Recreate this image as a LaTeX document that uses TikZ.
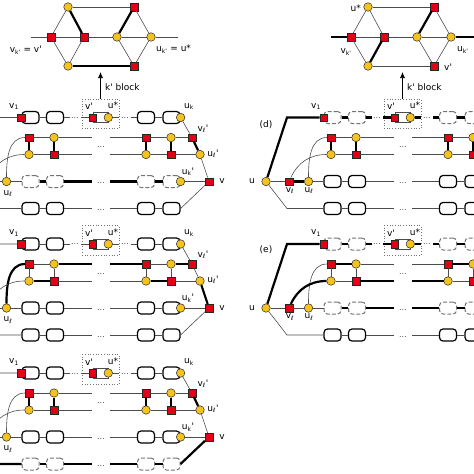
\documentclass[tikz,border=0pt]{standalone}
\usepackage{fontspec}
\newfontfamily\lblfont{DejaVu Sans}
\usetikzlibrary{arrows.meta}

\definecolor{vred}{RGB}{228,0,20}
\definecolor{uyel}{RGB}{246,195,28}

\tikzset{
	lbl/.style={font=\lblfont\fontsize{9}{10}\selectfont, inner sep=1pt},
	vsq/.style={draw=black!85, fill=vred, line width=0.5pt, minimum size=7.5pt, inner sep=0pt},
	ucirc/.style={circle, draw=black!85, fill=uyel, line width=0.5pt, minimum size=8.5pt, inner sep=0pt},
	ln/.style={line width=0.6pt, draw=black!70},
	fat/.style={line width=2.2pt, draw=black},
	sbox/.style={rectangle, rounded corners=3.5pt, draw=black, line width=1.2pt, minimum width=17pt, minimum height=12pt, inner sep=0pt},
	dbox/.style={sbox, draw=black!55, line width=1pt, dash pattern=on 4pt off 2pt},
	frm/.style={draw=black!55, dotted, line width=0.7pt, minimum width=37pt, minimum height=29.5pt, inner sep=0pt},
	ibox/.style={draw=black!70, line width=0.6pt, minimum width=15pt, minimum height=10pt, inner sep=0pt},
	dotgap/.style={font=\lblfont\fontsize{8}{8}\selectfont, inner sep=0pt, text=black!70},
	arw/.style={line width=0.7pt, -{Latex[length=6pt,width=5pt]}},
	% default: every edge thin, every box solid
	sA/.style={ln}, sD/.style={ln}, sE/.style={ln},
	sB1/.style={ln}, sB2/.style={ln}, sB3/.style={ln}, sB4/.style={ln},
	sC1/.style={ln}, sC2/.style={ln}, sC3/.style={ln}, sC4/.style={ln},
	rung/.style={ln}, sCB/.style={ln}, sCC/.style={ln}, sVU/.style={ln},
	sR1/.style={ln}, sR2/.style={ln}, sR3/.style={ln},
	bA/.style={sbox}, bD/.style={sbox}, bE/.style={sbox},
	hA/.style={ln}, hB/.style={ln}, hC/.style={ln}, hL/.style={ln}, hR/.style={ln},
}

% k' block
\def\hexa#1{
	\node[ucirc] (#1tl) at (68,7) {};
	\node[vsq] (#1tr) at (134,7) {};
	\node[vsq] (#1ml) at (51,37) {};
	\node[vsq] (#1mi) at (84,37) {};
	\node[ucirc] (#1mj) at (117,37) {};
	\node[ucirc] (#1mr) at (151,37) {};
	\node[ucirc] (#1bl) at (68,66) {};
	\node[vsq] (#1br) at (134,66) {};
	\coordinate (#1sl) at (31,37);
	\coordinate (#1sr) at (178,37);
	
	\draw[ln] (#1tl) -- (#1tr);
	\draw[ln] (#1tl) -- (#1ml);
	\draw[hA] (#1tl) -- (#1mi);
	\draw[ln] (#1ml) -- (#1bl);
	\draw[hC] (#1mi) -- (#1bl);
	\draw[hB] (#1bl) -- (#1br);
	\draw[fat] (#1tr) -- (#1mj);
	\draw[ln] (#1tr) -- (#1mr);
	\draw[ln] (#1mj) -- (#1br);
	\draw[ln] (#1mr) -- (#1br);
	\draw[ln] (#1ml) -- (#1mi);
	\draw[ln] (#1mi) -- (#1mj);
	\draw[ln] (#1mj) -- (#1mr);
	\draw[hL] (#1sl) -- (#1ml);
	\draw[hR] (#1mr) -- (#1sr);
}

% one panel of the chain
\def\panel#1{
	\node[bA] (#1a1) at (30.5,0) {};
	\node[bA] (#1a2) at (55,0) {};
	\node[bA] (#1a3) at (146,0) {};
	\node[bA] (#1a4) at (171.5,0) {};
	\node[bD] (#1d1) at (30.5,64) {};
	\node[bD] (#1d2) at (55,64) {};
	\node[bD] (#1d3) at (146,64) {};
	\node[bD] (#1d4) at (171.5,64) {};
	\node[bE] (#1e1) at (30.5,91) {};
	\node[bE] (#1e2) at (55,91) {};
	\node[bE] (#1e3) at (146,91) {};
	\node[bE] (#1e4) at (171.5,91) {};
	\node[frm] (#1fr) at (100.5,-3.5) {};
	\node[ibox] (#1ib) at (100.5,0) {};
	
	\node[ucirc] (#1u) at (-36,64) {};
	\node[vsq] (#1vl) at (-13,64) {};
	\node[ucirc] (#1ul) at (6.5,64) {};
	\node[vsq] (#1v1) at (#1a1.west) {};
	\node[vsq] (#1vp) at (#1ib.west) {};
	\node[ucirc] (#1us) at (#1ib.east) {};
	\node[ucirc] (#1uk) at (#1a4.east) {};
	\node[vsq] (#1b1) at (29,20) {};
	\node[ucirc] (#1b2) at (54,20) {};
	\node[vsq] (#1b3) at (146,20) {};
	\node[ucirc] (#1b4) at (171,20) {};
	\node[ucirc] (#1c1) at (29,37) {};
	\node[vsq] (#1c2) at (54,37) {};
	\node[ucirc] (#1c3) at (146,37) {};
	\node[vsq] (#1c4) at (171,37) {};
	\node[vsq] (#1vlp) at (192,20) {};
	\node[ucirc] (#1ulp) at (200,37) {};
	\node[ucirc] (#1ukp) at (#1d4.east) {};
	\node[vsq] (#1v) at (209,64) {};
	
	\node[dotgap] (#1g1) at (75,0.5) {...};
	\node[dotgap] (#1g2) at (125,0.5) {...};
	\node[dotgap] (#1g3) at (101,29.5) {...};
	\node[dotgap] (#1g4) at (101,65.5) {...};
	\node[dotgap] (#1g5) at (101,92.5) {...};
	\coordinate (#1ca) at (-15,0);
	\coordinate (#1ce) at (-15,91);
	\coordinate (#1pa1) at (70,0);
	\coordinate (#1pa2) at (81,0);
	\coordinate (#1pa3) at (119,0);
	\coordinate (#1pa4) at (131,0);
	\foreach \r/\y in {b/20,c/37,d/64,e/91}{
		\coordinate (#1p\r1) at (92,\y);
		\coordinate (#1p\r2) at (110,\y);
	}
	
	% row A
	\draw[sA] (#1u) -- (#1ca) -- (#1v1);
	\draw[sA] (#1a1) -- (#1a2);
	\draw[sA] (#1a2) -- (#1pa1);
	\draw[sA] (#1pa2) -- (#1vp);
	\draw[sA] (#1us) -- (#1pa3);
	\draw[sA] (#1pa4) -- (#1a3);
	\draw[sA] (#1a3) -- (#1a4);
	% rows B and C
	\draw[sB1] (#1b1) -- (#1b2);
	\draw[sB2] (#1b2) -- (#1pb1);
	\draw[sB2] (#1pb2) -- (#1b3);
	\draw[sB3] (#1b3) -- (#1b4);
	\draw[sB4] (#1b4) -- (#1vlp);
	\draw[sC1] (#1c1) -- (#1c2);
	\draw[sC2] (#1c2) -- (#1pc1);
	\draw[sC2] (#1pc2) -- (#1c3);
	\draw[sC3] (#1c3) -- (#1c4);
	\draw[sC4] (#1c4) -- (#1ulp);
	\draw[rung] (#1b1) -- (#1c1);
	\draw[rung] (#1b2) -- (#1c2);
	\draw[rung] (#1b3) -- (#1c3);
	\draw[rung] (#1b4) -- (#1c4);
	% row D
	\draw[ln] (#1u) -- (#1vl);
	\draw[sVU] (#1vl) -- (#1ul);
	\draw[ln] (#1ul) -- (#1d1);
	\draw[sD] (#1d1) -- (#1d2);
	\draw[sD] (#1d2) -- (#1pd1);
	\draw[sD] (#1pd2) -- (#1d3);
	\draw[sD] (#1d3) -- (#1d4);
	% row E
	\draw[sE] (#1u) -- (#1ce) -- (#1e1);
	\draw[sE] (#1e1) -- (#1e2);
	\draw[sE] (#1e2) -- (#1pe1);
	\draw[sE] (#1pe2) -- (#1e3);
	\draw[sE] (#1e3) -- (#1e4);
	% ends
	\draw[sCB] (#1ul) to[out=90,in=180] (#1b1);
	\draw[sCC] (#1vl) to[out=65,in=180] (#1c1);
	\draw[ln] (#1uk) -- (#1vlp);
	\draw[sR1] (#1vlp) -- (#1ulp);
	\draw[sR2] (#1ulp) -- (#1v);
	\draw[ln] (#1ukp) -- (#1v);
	\draw[sR3] (#1e4.east) -- (#1v);
	
	\node[lbl] (#1n1) at (14,-11) {v\textsubscript{1}};
	\node[lbl] (#1n2) at (89,-11) {v'};
	\node[lbl] (#1n3) at (113,-12) {u*};
}

% labels on the right end (left column)
\def\rightend#1{
	\node[lbl] (#1n4) at (189,-11) {u\textsubscript{k}};
	\node[lbl] (#1n5) at (203,11) {v\textsubscript{ℓ}'};
	\node[lbl] (#1n6) at (213,36) {u\textsubscript{ℓ}'};
	\node[lbl] (#1n7) at (188,54) {u\textsubscript{k}'};
	\node[lbl] (#1n8) at (222,64) {v};
	\node[lbl] (#1n10) at (8,76) {u\textsubscript{ℓ}};
}

% labels on the left end (right column)
\def\leftend#1{
	\node[lbl] (#1n9) at (-12,73) {v\textsubscript{ℓ}};
	\node[lbl] (#1n10) at (7,73) {u\textsubscript{ℓ}};
	\node[lbl] (#1n11) at (-50,64) {u};
}

\begin{document}
\begin{tikzpicture}[x=1pt, y=-1pt]
	%%%%% START %%%%%
	\useasboundingbox (0,0) rectangle (474,474);
	\clip (0,0) rectangle (474,474);
	
	\begin{scope}[hA/.style=fat, hB/.style=fat]
		\hexa{k}
	\end{scope}
	\begin{scope}[shift={(300,0)}, hC/.style=fat, hL/.style=fat, hR/.style=fat]
		\hexa{m}
	\end{scope}
	\node[lbl, anchor=east] (kv) at (43,50) {v\textsubscript{k'} = v'};
	\node[lbl, anchor=west] (ku) at (155,49) {u\textsubscript{k'} = u*};
	\node[lbl, anchor=east] (mus) at (362,8) {u*};
	\node[lbl] (mvk) at (346,52) {v\textsubscript{k'}};
	\node[lbl, anchor=west] (mvp) at (443,67) {v'};
	\node[lbl, anchor=west] (muk) at (456,50) {u\textsubscript{k'}};
	
	\begin{scope}[shift={(0,117.5)}, rung/.style=fat, sD/.style=fat, bD/.style=dbox, sR1/.style=fat]
		\panel{a}
		\rightend{a}
	\end{scope}
	\begin{scope}[shift={(0,244)}, sB2/.style=fat, sB4/.style=fat, sC1/.style=fat, sC3/.style=fat, sCB/.style=fat, sR2/.style=fat]
		\panel{b}
		\rightend{b}
	\end{scope}
	\begin{scope}[shift={(0,373)}, rung/.style=fat, sE/.style=fat, bE/.style=dbox, sR1/.style=fat, sR3/.style=fat]
		\panel{c}
		\rightend{c}
	\end{scope}
	\begin{scope}[shift={(302,117.5)}, rung/.style=fat, sA/.style=fat, bA/.style=dbox, sVU/.style=fat]
		\panel{d}
		\leftend{d}
		\node[lbl] (dtag) at (-36,7.5) {(d)};
	\end{scope}
	\begin{scope}[shift={(302,244)}, sA/.style=fat, bA/.style=dbox, sD/.style=fat, bD/.style=dbox, sCC/.style=fat, sB1/.style=fat, sC2/.style=fat, sB3/.style=fat]
		\panel{e}
		\leftend{e}
		\node[lbl] (etag) at (-36,6) {(e)};
	\end{scope}
	
	\coordinate (ka) at (100.5,72);
	\coordinate (ma) at (402.5,72);
	\draw[arw] (afr) -- (ka);
	\draw[arw] (dfr) -- (ma);
	\node[lbl, anchor=west] (kb) at (104,87) {k' block};
	\node[lbl, anchor=west] (mb) at (406,87) {k' block};
	%%%%% END %%%%%
\end{tikzpicture}
\end{document}
